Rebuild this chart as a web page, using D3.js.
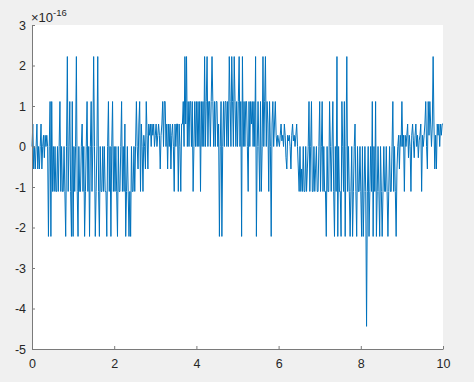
<!DOCTYPE html>
<html>
<head>
<meta charset="utf-8">
<script src="https://cdn.jsdelivr.net/npm/d3@7"></script>
<style>
  html, body { margin: 0; padding: 0; background: #f0f0f0; }
  svg { display: block; }
  text { font-family: "Liberation Sans", Arial, Helvetica, sans-serif; }
</style>
</head>
<body>
<div id="chart"></div>
<script>
// Error values, in units of 2^-54 (≈ 0.555e-16), sampled every 0.02 along x
const xStart = 0;
const xStep = 0.02;
const seg0 = [0,1,-1,0,-1,0,1,-1,0,-1, 0,1,-1,0,.5,-.5,.5,0,.5,0, -4,0,2,-4,2,-2,0,-2,0,-2, -2,0,-2,0,2,-2,0,-2,-2,0, -2,-4,0,4,-2,0,2,-2,-4,2];
const seg1 = [-4,0,-2,0,4,-2,-4,0,-2,-2, 0,1,-2,0,-4,-2,0,2,-2,0, -4,0,2,-2,0,4,0,-4,-2,0, 4,-2,-4,0,-2,-2,0,-2,0,-2, -2,-4,0,2,-2,0,-4,0,2,-2];
const seg2 = [0,-2,0,-2,-4,0,-2,-2,0,2, -2,0,-2,1,-4,-2,0,-2,-4,-2, -4,0,-2,-2,0,-2,0,2,0,-1, 1,2,-2,1,0,-2,.5,0,-1,2, .5,-1,1,.5,1,0,1,.5,1,0];
const seg3 = [.5,1,0,.5,1,.5,-1,.5,1,2, 0,2,2,0,1,-1,1,0,1,-1, .5,1,0,-2,1,0,1,1,-2,1, 0,-2,1,1,2,0,4,1,4,0, 2,0,2,2,0,2,-2,0,2,0];
const seg4 = [2,0,2,0,2,-2,2,0,2,0, 4,0,2,4,0,2,2,0,2,4, 2,0,2,0,2,2,0,1,-4,0, 2,-4,0,2,0,2,2,0,2,0, 4,2,0,4,2,0,4,2,0,2];
const seg5 = [0,2,4,0,2,-4,4,0,2,0, 2,2,0,-2,2,0,2,1,2,0, 2,0,4,-4,0,2,0,-2,2,-2, 0,4,0,2,4,0,2,1,-2,2, 0,-4,1,2,0,1,2,.5,0,.5];
const seg6 = [.25,0,.5,1,.25,.5,0,1,.5,-.5, -1,.5,.25,.5,0,-1,.5,1,.25,.5, 0,.5,1,0,-1,-2,0,-2,-1,-2, 0,-2,-2,0,-2,-1,0,2,-2,0, 2,-2,-2,0,-2,-1,0,-2,-2,0];
const seg7 = [2,-2,0,2,-2,0,-2,-2,-4,0, -2,-2,2,0,-2,0,2,-2,-4,0, -2,4,-4,0,-2,-2,-4,2,0,-2, 2,-4,0,4,-2,0,-2,-4,-2,0, -4,-2,0,1,-2,-4,0,-2,-2,0];
const seg8 = [-2,-4,0,-4,-2,0,-2,-8,-2,0, -4,-2,0,-2,2,-4,0,-2,2,-4, -2,0,-2,-4,0,-2,-4,-2,0,-2, -2,0,-2,-4,-2,0,-2,-2,0,2, -2,0,-2,-4,-1,0,.5,-1,.5,0];
const seg9 = [2,0,.5,-2,.5,0,.5,1,-.5,.5, 0,-2,.5,1,.25,-.5,.5,1,0,.5, -.5,.25,.5,1,-2,.5,0,.5,1,2, 0,-1,2,.5,2,1,0,1,4,1, -1,.5,-1,1,.5,1,0,1,.5,1];
const segEnd = [1];

const xTicks = [0, 2, 4, 6, 8, 10];
const yTicks = [-5, -4, -3, -2, -1, 0, 1, 2, 3];   // in units of 1e-16
const unit = Math.pow(2, -54);
const yExp = -16;

const units = [].concat(seg0, seg1, seg2, seg3, seg4, seg5, seg6, seg7, seg8, seg9, segEnd);
const data = units.map((u, i) => ({ x: xStart + i * xStep, y: u * unit }));

const W = 474, H = 382;
const L = 32, R = 443, T = 25, B = 349;
const svg = d3.select("#chart").append("svg").attr("width", W).attr("height", H);

svg.append("rect").attr("x", 0).attr("y", 0).attr("width", W).attr("height", H).attr("fill", "#f0f0f0");
svg.append("rect").attr("x", L).attr("y", T).attr("width", R - L).attr("height", B - T).attr("fill", "#ffffff");

const x = d3.scaleLinear().domain([0, 10]).range([L, R]);
const y = d3.scaleLinear().domain([-5e-16, 3e-16]).range([B, T]);

svg.append("path")
  .datum(data)
  .attr("fill", "none")
  .attr("stroke", "#0072BD")
  .attr("stroke-width", 1)
  .attr("d", d3.line().x(d => x(d.x)).y(d => y(d.y)));

const fmtY = v => {
  const n = Math.round(v / Math.pow(10, yExp));
  return n < 0 ? "-" + Math.abs(n) : String(n);
};

const gx = svg.append("g").attr("transform", `translate(0,${B})`)
  .call(d3.axisBottom(x).tickValues(xTicks).tickSizeInner(-3).tickSizeOuter(0).tickPadding(10).tickFormat(d3.format("d")));
const gy = svg.append("g").attr("transform", `translate(${L},0)`)
  .call(d3.axisLeft(y).tickValues(yTicks.map(v => v * Math.pow(10, yExp))).tickSizeInner(-3).tickSizeOuter(0).tickPadding(6).tickFormat(fmtY));

[gx, gy].forEach(g => {
  g.select(".domain").attr("stroke", "#7a7a7a");
  g.selectAll(".tick line").attr("stroke", "#7a7a7a");
  g.selectAll(".tick text").attr("fill", "#262626").style("font-size", "12.5px").style("font-family", "'Liberation Sans', Arial, sans-serif");
});

const ex = svg.append("text").attr("x", L - 1).attr("y", 22).attr("fill", "#262626")
  .style("font-size", "13px");
ex.append("tspan").text("×10");
ex.append("tspan").attr("dy", -6).style("font-size", "9.5px").text(String(yExp));
</script>
</body>
</html>
